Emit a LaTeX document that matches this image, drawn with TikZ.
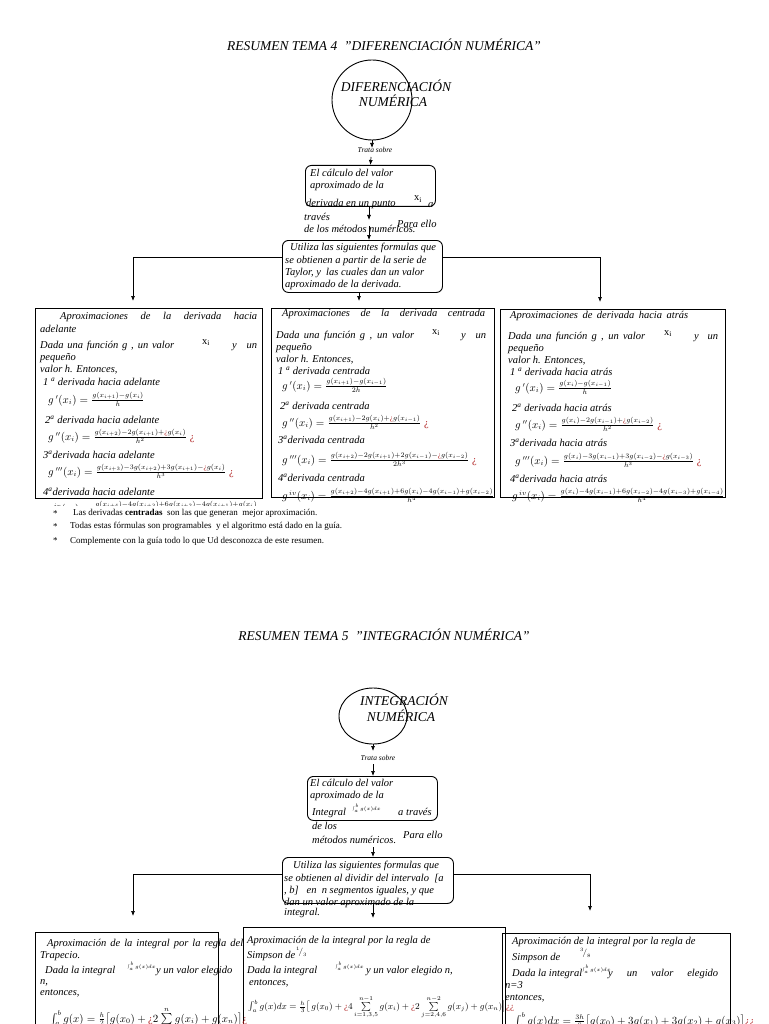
\documentclass[tikz,border=0pt]{standalone}
\usepackage{fontspec}
\setmainfont{Liberation Serif}
\usepackage{amsmath}
\usetikzlibrary{arrows.meta,shapes.geometric}
\definecolor{qred}{RGB}{175,30,30}
\newcommand\qm{\text{\color{qred}\upshape ¿}}
\newcommand\J[2]{\makebox[#1pt][s]{#2}}
\newcommand\sa{\textsuperscript{a}}
\tikzset{
  tx/.style={anchor=base west, inner sep=0pt, font=\fontsize{10.5}{12}\selectfont\itshape},
  ttl/.style={anchor=base, inner sep=0pt, font=\fontsize{13.5}{15}\selectfont\itshape},
  big/.style={anchor=base, inner sep=0pt, font=\fontsize{13.5}{15}\selectfont\itshape},
  sml/.style={anchor=base, inner sep=0pt, font=\fontsize{7.5}{9}\selectfont\itshape},
  fm/.style={anchor=base west, inner sep=0pt, font=\fontsize{10.5}{12}\selectfont},
  fms/.style={anchor=base west, inner sep=0pt, font=\fontsize{9}{11}\selectfont},
  tiny/.style={anchor=base west, inner sep=0pt, font=\fontsize{4}{5}\selectfont},
  bul/.style={anchor=base west, inner sep=0pt, font=\fontsize{9}{11}\selectfont},
  rbox/.style={draw, rounded corners=6pt, line width=0.9pt, inner sep=0pt, anchor=north west},
  sbox/.style={draw, line width=1pt, inner sep=0pt, anchor=north west},
  conn/.style={line width=0.7pt, -{Latex[length=5pt,width=4pt]}},
}
\begin{document}
\begin{tikzpicture}[x=1pt,y=-1pt]
\useasboundingbox (0,0) rectangle (768,1024);
\clip (0,0) rectangle (768,1024);
\fill[white] (0,0) rectangle (768,1024);

% ================= TEMA 4 =================
\node[ttl] (title1) at (384,51) {RESUMEN TEMA 4 \ "DIFERENCIACIÓN NUMÉRICA"};
\node[circle, draw, line width=0.9pt, minimum size=80pt, inner sep=0pt] (c1) at (372,100) {};
\node[big] (d1) at (396,92) {DIFERENCIACIÓN};
\node[big] (d2) at (393,107) {NUMÉRICA};
\coordinate (a1) at (372,148);
\draw[conn] (c1.south) -- (a1);
\node[sml] (ts1) at (375,153) {Trata sobre};
\coordinate (a2) at (371,157);

\node[rbox, minimum width=130pt, minimum height=41pt] (b1) at (305,165) {};
\draw[conn] (a2) -- (b1.north);
\node[tx] (b1t1) at (310,177) {El cálculo del valor};
\node[tx] (b1t2) at (310,189) {aproximado de la};
\node[tx] (b1t3) at (306,207) {derivada en un punto};
\node[fm] (b1x) at (414,201) {$\mathrm{x}_{\mathrm{i}}$};
\node[tx] (b1a) at (428,208) {a};
\node[tx] (b1t4) at (304,221) {través};
\node[tx] (b1t5) at (304,233) {de los métodos numéricos.};
\node[tx] (b1p) at (397,228) {Para ello};
\coordinate (a3) at (369,220);
\coordinate (a4) at (369,226);
\draw[conn] (b1.south -| a3) -- (a3);

\node[rbox, minimum width=160pt, minimum height=52pt] (b2) at (282,240) {};
\draw[conn] (a4) -- (b2.north -| a4);
\node[tx] (b2t1) at (290,250) {Utiliza las siguientes formulas que};
\node[tx] (b2t2) at (285,263) {se obtienen a partir de la serie de};
\node[tx] (b2t3) at (285,275) {Taylor, y \ las cuales dan un valor};
\node[tx] (b2t4) at (285,287) {aproximado de la derivada.};

\node[sbox, minimum width=227pt, minimum height=190pt] (b3) at (35,308) {};
\node[sbox, minimum width=223pt, minimum height=189pt] (b4) at (271,308) {};
\node[sbox, minimum width=225pt, minimum height=188pt] (b5) at (500,309) {};

\coordinate (L1) at (133,257);
\coordinate (R1) at (600,257);
\coordinate (M1) at (359,0);
\draw[conn, shorten >=7pt] (b2.west |- L1) -- (L1) -- (b3.north -| L1);
\draw[conn, shorten >=7pt] (b2.east |- R1) -- (R1) -- (b5.north -| R1);
\draw[conn, shorten >=7pt] (b2.south -| M1) -- (b4.north -| M1);

% left box
\node[tx] (l1) at (60,319) {\J{197}{Aproximaciones de la derivada hacia}};
\node[tx] (l2) at (40,332) {adelante};
\node[tx] (l3) at (40,348) {\J{134}{Dada una función g , un valor}};
\node[fm] (l3x) at (202,344) {$\mathrm{x}_{\mathrm{i}}$};
\node[tx] (l3y) at (232,348) {\J{25}{y un}};
\node[tx] (l4) at (40,360) {pequeño};
\node[tx] (l5) at (40,372) {valor h. Entonces,};
\node[tx] (l6) at (43,385) {1 \sa\ derivada hacia adelante};
\node[fm] (lf1) at (48,403) {$g\,'(x_i)=\frac{g(x_{i+1})-g(x_i)}{h}$};
\node[tx] (l7) at (45,423) {2\sa\ derivada hacia adelante};
\node[fm] (lf2) at (48,440) {$g\,''(x_i)=\frac{g(x_{i+2})-2g(x_{i+1})+\qm g(x_i)}{h^2}\;\qm$};
\node[tx] (l8) at (43,458) {3\sa derivada hacia adelante};
\node[fm] (lf3) at (48,475) {$g\,'''(x_i)=\frac{g(x_{i+3})-3g(x_{i+2})+3g(x_{i+1})-\qm g(x_i)}{h^3}\;\qm$};
\node[tx] (l9) at (43,495) {4\sa derivada hacia adelante};

% middle box
\node[tx] (m1) at (282,316) {\J{203}{Aproximaciones de la derivada centrada}};
\node[tx] (m2) at (276,338) {\J{138}{Dada una función g , un valor}};
\node[fm] (m2x) at (432,334) {$\mathrm{x}_{\mathrm{i}}$};
\node[tx] (m2y) at (461,338) {\J{25}{y un}};
\node[tx] (m3) at (276,350) {pequeño};
\node[tx] (m4) at (276,362) {valor h. Entonces,};
\node[tx] (m5) at (278,374) {1 \sa\ derivada centrada};
\node[fm] (mf1) at (282,389) {$g\,'(x_i)=\frac{g(x_{i+1})-g(x_{i-1})}{2h}$};
\node[tx] (m6) at (280,409) {2\sa\ derivada centrada};
\node[fm] (mf2) at (282,426) {$g\,''(x_i)=\frac{g(x_{i+1})-2g(x_i)+\qm g(x_{i-1})}{h^2}\;\qm$};
\node[tx] (m7) at (278,443) {3\sa derivada centrada};
\node[fm] (mf3) at (282,463) {$g\,'''(x_i)=\frac{g(x_{i+2})-2g(x_{i+1})+2g(x_{i-1})-\qm g(x_{i-2})}{2h^3}\;\qm$};
\node[tx] (m8) at (278,481) {4\sa derivada centrada};

% right box
\node[tx] (r1) at (510,318) {\J{178}{Aproximaciones de derivada hacia atrás}};
\node[tx] (r2) at (508,339) {\J{137}{Dada una función g , un valor}};
\node[fm] (r2x) at (664,335) {$\mathrm{x}_{\mathrm{i}}$};
\node[tx] (r2y) at (694,339) {\J{24}{y un}};
\node[tx] (r3) at (508,351) {pequeño};
\node[tx] (r4) at (508,363) {valor h. Entonces,};
\node[tx] (r5) at (510,375) {1 \sa\ derivada hacia atrás};
\node[fm] (rf1) at (515,391) {$g\,'(x_i)=\frac{g(x_i)-g(x_{i-1})}{h}$};
\node[tx] (r6) at (512,411) {2\sa\ derivada hacia atrás};
\node[fm] (rf2) at (515,428) {$g\,''(x_i)=\frac{g(x_i)-2g(x_{i-1})+\qm g(x_{i-2})}{h^2}\;\qm$};
\node[tx] (r7) at (510,446) {3\sa derivada hacia atrás};
\node[fm] (rf3) at (515,464) {$g\,'''(x_i)=\frac{g(x_i)-3g(x_{i-1})+3g(x_{i-2})-\qm g(x_{i-3})}{h^3}\;\qm$};
\node[tx] (r8) at (510,482) {4\sa derivada hacia atrás};

\begin{scope}
\clip (0,0) rectangle (768,505);
\node[fm] (lf4) at (48,512) {$g^{iv}(x_i)=\frac{g(x_{i+4})-4g(x_{i+3})+6g(x_{i+2})-4g(x_{i+1})+g(x_i)}{h^4}$};
\node[fm] (mf4) at (282,499) {$g^{\,iv}(x_i)=\frac{g(x_{i+2})-4g(x_{i+1})+6g(x_i)-4g(x_{i-1})+g(x_{i-2})}{h^4}$};
\node[fm] (rf4) at (512,499) {$g^{\,iv}(x_i)=\frac{g(x_i)-4g(x_{i-1})+6g(x_{i-2})-4g(x_{i-3})+g(x_{i-4})}{h^4}$};
\end{scope}

% bullets
\node[bul] (s1) at (53,516) {*};
\node[bul] (s2) at (53,529) {*};
\node[bul] (s3) at (53,543) {*};
\node[bul] (u1) at (73,515) {Las derivadas \textbf{centradas} \ son las que generan \ mejor aproximación.};
\node[bul] (u2) at (70,528) {Todas estas fórmulas son programables \ y el algoritmo está dado en la guía.};
\node[bul] (u3) at (70,543) {Complemente con la guía todo lo que Ud desconozca de este resumen.};

% ================= TEMA 5 =================
\node[ttl] (title2) at (384,640) {RESUMEN TEMA 5 \ "INTEGRACIÓN NUMÉRICA"};
\node[ellipse, draw, line width=0.9pt, minimum width=68pt, minimum height=56pt, inner sep=0pt] (c2) at (373,716) {};
\node[big] (i1) at (404,705) {INTEGRACIÓN};
\node[big] (i2) at (401,721) {NUMÉRICA};
\coordinate (a5) at (373,751);
\draw[conn] (c2.south) -- (a5);
\node[sml] (ts2) at (378,760) {Trata sobre};
\coordinate (a6) at (373,764);

\node[rbox, minimum width=130pt, minimum height=44pt] (b6) at (307,776) {};
\draw[conn] (a6) -- (b6.north -| a6);
\node[tx] (b6t1) at (310,786) {El cálculo del valor};
\node[tx] (b6t2) at (310,798) {aproximado de la};
\node[tx] (b6t3) at (312,815) {Integral};
\node[tiny] (b6i) at (352,810) {$\int_a^b g(x)dx$};
\node[tx] (b6t4) at (398,815) {a través};
\node[tx] (b6t5) at (312,829) {de los};
\node[tx] (b6t6) at (312,843) {métodos numéricos.};
\node[tx] (b6p) at (403,838) {Para ello};
\coordinate (a7) at (373,847);

\node[rbox, minimum width=171pt, minimum height=46pt] (b7) at (282,857) {};
\draw[conn] (a7) -- (b7.north -| a7);
\node[tx] (b7t1) at (293,868) {Utiliza las siguientes formulas que};
\node[tx] (b7t2) at (284,881) {se obtienen al dividir del intervalo \ [a};
\node[tx] (b7t3) at (284,893) {, b] \ \ en \ n segmentos iguales, y que};
\node[tx] (b7t4) at (284,905) {dan un valor aproximado de la};
\node[tx] (b7t5) at (284,915) {integral.};

\node[sbox, minimum width=183pt, minimum height=110pt] (b8) at (35,932) {};
\node[sbox, minimum width=262pt, minimum height=110pt] (b9) at (243,927) {};
\node[sbox, minimum width=228pt, minimum height=110pt] (b10) at (502,933) {};

\coordinate (L2) at (133,874);
\coordinate (R2) at (590,874);
\coordinate (M2) at (373,0);
\draw[conn, shorten >=16pt] (b7.west |- L2) -- (L2) -- (b8.north -| L2);
\draw[conn, shorten >=22pt] (b7.east |- R2) -- (R2) -- (b10.north -| R2);
\draw[conn, shorten >=9pt] (b7.south -| M2) -- (b9.north -| M2);

% box 8 (Trapecio)
\node[tx] (p1) at (47,946) {\J{196}{Aproximación de la integral por la regla del}};
\node[tx] (p2) at (40,958) {Trapecio.};
\node[tx] (p3) at (45,973) {Dada la integral};
\node[tiny] (p3i) at (127,968) {$\int_a^b g(x)dx$};
\node[tx] (p3y) at (156,973) {y un valor elegido};
\node[tx] (p4) at (40,984) {n,};
\node[tx] (p5) at (40,995) {entonces,};
\node[fm] (pf) at (50,1022) {$\int_a^b g(x)=\frac{h}{2}\bigl[g(x_0)+\qm 2\sum\limits_{i=1}^{n} g(x_i)+g(x_n)\bigr]\qm$};

% box 9 (Simpson 1/3)
\node[tx] (q1) at (247,943) {Aproximación de la integral por la regla de};
\node[tx] (q2) at (247,958) {Simpson de};
\node[fm] (q2f) at (296,954) {\fontsize{7}{8}\selectfont $^{1}\!\big/_{3}$};
\node[tx] (q3) at (247,973) {Dada la integral};
\node[tiny] (q3i) at (335,968) {$\int_a^b g(x)dx$};
\node[tx] (q3y) at (366,973) {y un valor elegido n,};
\node[tx] (q4) at (249,985) {entonces,};
\node[fms] (qf) at (248,1009) {$\int_a^b g(x)dx=\frac{h}{3}\bigl[\,g(x_0)+\qm 4\sum\limits_{i=1,3,5}^{n-1} g(x_i)+\qm 2\sum\limits_{j=2,4,6}^{n-2} g(x_j)+g(x_n)\bigr]\qm\qm$};

% box 10 (Simpson 3/8)
\node[tx] (w1) at (512,944) {Aproximación de la integral por la regla de};
\node[tx] (w2) at (512,960) {Simpson de};
\node[fm] (w2f) at (580,955) {\fontsize{7}{8}\selectfont $^{3}\!\big/_{8}$};
\node[tx] (w3) at (512,976) {Dada la integral};
\node[tiny] (w3i) at (582,971) {$\int_a^b g(x)dx$};
\node[tx] (w3y) at (608,976) {\J{110}{y un valor elegido}};
\node[tx] (w4) at (505,988) {n=3};
\node[tx] (w5) at (505,1000) {entonces,};
\node[fm] (wf) at (514,1024) {$\int_a^b g(x)dx=\frac{3h}{8}\bigl[g(x_0)+3g(x_1)+3g(x_2)+g(x_3)\bigr]\qm\qm$};
\end{tikzpicture}
\end{document}
